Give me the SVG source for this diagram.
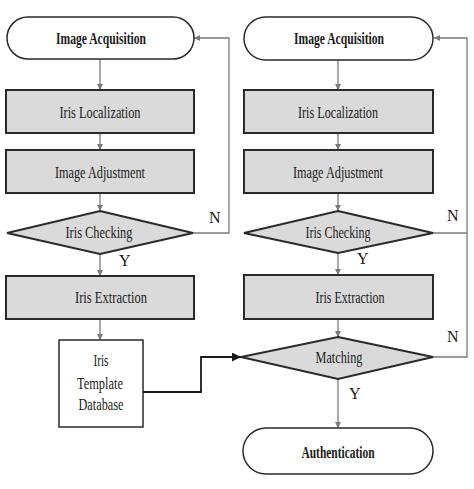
<svg xmlns="http://www.w3.org/2000/svg" width="474" height="489" viewBox="0 0 474 489">
<defs>
<style>
.box{fill:#dadada;stroke:#2a2a2a;stroke-width:2}
.term{fill:#ffffff;stroke:#2a2a2a;stroke-width:1.5}
.db{fill:#ffffff;stroke:#2a2a2a;stroke-width:1.5}
.t{font-family:"Liberation Serif","Times New Roman",serif;font-size:17px;fill:#1a1a1a;text-anchor:middle}
.b{font-weight:bold}
.lbl{font-family:"Liberation Serif","Times New Roman",serif;font-size:16px;fill:#1a1a1a}
.c{fill:none;stroke:#7a7a7a;stroke-width:1.3}
.k{fill:none;stroke:#1a1a1a;stroke-width:1.8}
</style>
<marker id="ag" viewBox="0 0 10 10" refX="10" refY="5" markerWidth="6" markerHeight="6" orient="auto" markerUnits="userSpaceOnUse"><path d="M0,0 L10,5 L0,10 z" fill="#7a7a7a"/></marker>
<marker id="ak" viewBox="0 0 10 10" refX="10" refY="5" markerWidth="9" markerHeight="9" orient="auto" markerUnits="userSpaceOnUse"><path d="M0,0 L10,5 L0,10 z" fill="#1a1a1a"/></marker>
</defs>
<rect width="474" height="489" fill="#ffffff"/>
<g id="connectors">
<line class="c" x1="100" y1="59" x2="100" y2="90" marker-end="url(#ag)"/>
<line class="c" x1="100" y1="133" x2="100" y2="150" marker-end="url(#ag)"/>
<line class="c" x1="100" y1="193" x2="100" y2="211" marker-end="url(#ag)"/>
<line class="c" x1="100" y1="254" x2="100" y2="276" marker-end="url(#ag)"/>
<line class="c" x1="100" y1="319" x2="100" y2="340" marker-end="url(#ag)"/>
<polyline class="c" points="193,233 229,233 229,38 194,38" marker-end="url(#ag)"/>
<polyline class="k" points="143,392 201,392 201,357 241,357" marker-end="url(#ak)"/>
<line class="c" x1="338" y1="60" x2="338" y2="90" marker-end="url(#ag)"/>
<line class="c" x1="338" y1="133" x2="338" y2="150" marker-end="url(#ag)"/>
<line class="c" x1="338" y1="193" x2="338" y2="211" marker-end="url(#ag)"/>
<line class="c" x1="338" y1="253" x2="338" y2="275" marker-end="url(#ag)"/>
<line class="c" x1="338" y1="319" x2="338" y2="337" marker-end="url(#ag)"/>
<line class="c" x1="338" y1="379" x2="338" y2="428" marker-end="url(#ag)"/>
<polyline class="c" points="433,233 467,233 467,38 434,38" marker-end="url(#ag)"/>
<polyline class="c" points="433,357 467,357 467,233"/>
<text class="lbl" x="209" y="223">N</text>
<text class="lbl" x="119" y="266">Y</text>
<text class="lbl" x="447" y="221">N</text>
<text class="lbl" x="357" y="264">Y</text>
<text class="lbl" x="447" y="342">N</text>
<text class="lbl" x="349" y="399">Y</text>
</g>
<g id="l-acq"><rect class="term" x="7" y="17" width="187" height="42" rx="21" ry="21"/><text class="t b" x="101" y="44" textLength="90" lengthAdjust="spacingAndGlyphs">Image Acquisition</text></g>
<g id="l-loc"><rect class="box" x="6" y="90" width="188" height="43"/><text class="t" x="100" y="118" textLength="81" lengthAdjust="spacingAndGlyphs">Iris Localization</text></g>
<g id="l-adj"><rect class="box" x="6" y="150" width="188" height="43"/><text class="t" x="100" y="178" textLength="90" lengthAdjust="spacingAndGlyphs">Image Adjustment</text></g>
<g id="l-chk"><polygon class="box" points="100,211 193,233 100,254 7,233"/><text class="t" x="99" y="238" textLength="67" lengthAdjust="spacingAndGlyphs">Iris Checking</text></g>
<g id="l-ext"><rect class="box" x="6" y="276" width="188" height="43"/><text class="t" x="111" y="303" textLength="72" lengthAdjust="spacingAndGlyphs">Iris  Extraction</text></g>
<g id="l-db"><rect class="db" x="59" y="340" width="84" height="87"/>
<text class="t" x="101" y="366" textLength="15" lengthAdjust="spacingAndGlyphs">Iris</text>
<text class="t" x="100" y="389" textLength="46" lengthAdjust="spacingAndGlyphs">Template</text>
<text class="t" x="101" y="410" textLength="45" lengthAdjust="spacingAndGlyphs">Database</text></g>
<g id="r-acq"><rect class="term" x="244" y="17" width="189" height="43" rx="21.5" ry="21.5"/><text class="t b" x="339" y="44" textLength="90" lengthAdjust="spacingAndGlyphs">Image Acquisition</text></g>
<g id="r-loc"><rect class="box" x="244" y="90" width="189" height="43"/><text class="t" x="338" y="118" textLength="80" lengthAdjust="spacingAndGlyphs">Iris Localization</text></g>
<g id="r-adj"><rect class="box" x="244" y="150" width="189" height="43"/><text class="t" x="338" y="178" textLength="90" lengthAdjust="spacingAndGlyphs">Image Adjustment</text></g>
<g id="r-chk"><polygon class="box" points="338,211 433,233 338,253 244,233"/><text class="t" x="338" y="238" textLength="65" lengthAdjust="spacingAndGlyphs">Iris Checking</text></g>
<g id="r-ext"><rect class="box" x="244" y="275" width="189" height="44"/><text class="t" x="350" y="303" textLength="69" lengthAdjust="spacingAndGlyphs">Iris Extraction</text></g>
<g id="r-match"><polygon class="box" points="338,337 433,357 338,379 241,357"/><text class="t" x="339" y="363" textLength="47" lengthAdjust="spacingAndGlyphs">Matching</text></g>
<g id="r-auth"><rect class="term" x="243" y="428" width="190" height="46" rx="23" ry="23"/><text class="t b" x="338" y="458" textLength="73" lengthAdjust="spacingAndGlyphs">Authentication</text></g>
</svg>
